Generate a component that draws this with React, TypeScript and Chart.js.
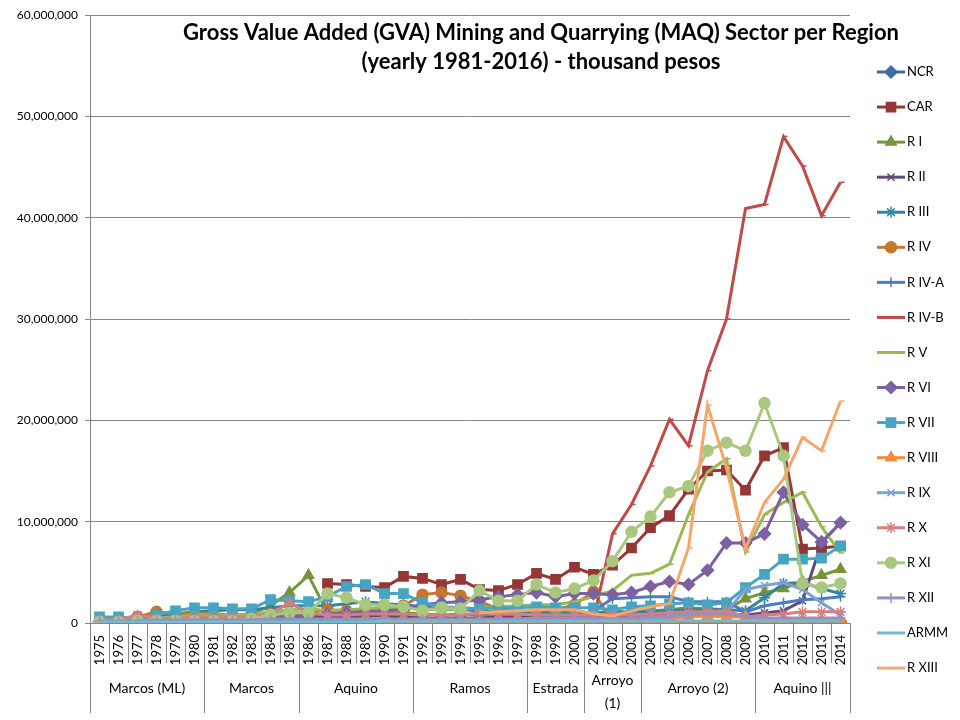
import { useEffect, useRef } from "react";
import { Chart, registerables } from "chart.js";
import { drawPoint } from "chart.js/helpers";

Chart.register(...registerables);

const FONT = "Lato, 'Noto Sans', sans-serif";
const TITLE_LINES = [
  "Gross Value Added (GVA) Mining and Quarrying (MAQ) Sector per Region",
  "(yearly 1981-2016) - thousand pesos",
];

const YEARS = [
  "1975", "1976", "1977", "1978", "1979", "1980", "1981", "1982", "1983", "1984",
  "1985", "1986", "1987", "1988", "1989", "1990", "1991", "1992", "1993", "1994",
  "1995", "1996", "1997", "1998", "1999", "2000", "2001", "2002", "2003", "2004",
  "2005", "2006", "2007", "2008", "2009", "2010", "2011", "2012", "2013", "2014",
];

// administrations under the year row, with how many years each spans
const GROUPS = ["Marcos (ML)", "Marcos", "Aquino", "Ramos", "Estrada", "Arroyo (1)", "Arroyo (2)", "Aquino |||"];
const GROUP_SIZES = [6, 5, 6, 6, 3, 3, 6, 5];

// values in millions of (thousand) pesos
const NCR = [0.1, 0.1, 0.1, 0.1, 0.1, 0.1, 0.1, 0.1, 0.1, 0.1, 0.1, 0.1, 0.1, 0.1, 0.1, 0.1, 0.1, 0.1, 0.1, 0.1, 0.1, 0.1, 0.1, 0.1, 0.1, 0.1, 0.1, 0.1, 0.1, 0.1, 0.1, 0.1, 0.1, 0.1, 0.1, 0.1, 0.1, 0.1, 0.1, 0.1];
const CAR = [null, null, null, null, null, null, null, null, null, null, null, null, 3.9, 3.8, 3.6, 3.5, 4.6, 4.4, 3.8, 4.3, 3.3, 3.2, 3.8, 4.9, 4.3, 5.5, 4.8, 5.7, 7.4, 9.4, 10.6, 13.2, 15.0, 15.1, 13.1, 16.5, 17.3, 7.3, 7.4, 7.6];
const R_I = [0.1, 0.1, 0.3, 0.5, 0.7, 0.9, 0.9, 0.8, 0.9, 1.7, 3.0, 4.7, 1.0, 0.8, 0.9, 1.0, 1.0, 0.9, 0.8, 0.9, 0.8, 0.8, 0.9, 1.0, 1.0, 1.1, 1.0, 0.9, 1.1, 1.2, 1.3, 1.5, 1.4, 1.3, 2.4, 3.0, 3.4, 4.1, 4.7, 5.3];
const R_II = [0.2, 0.2, 0.5, 0.3, 0.3, 0.4, 0.4, 0.4, 0.4, 0.5, 0.6, 0.5, 0.6, 0.6, 0.7, 0.7, 0.6, 0.5, 0.5, 0.5, 0.5, 0.6, 0.6, 0.6, 0.6, 0.6, 0.6, 0.6, 0.6, 0.7, 0.8, 0.9, 0.9, 0.9, 0.8, 1.0, 1.2, 2.2, 7.9, 9.9];
const R_III = [0.5, 0.4, 0.5, 0.6, 0.9, 1.1, 1.2, 1.3, 1.3, 1.5, 1.7, 1.7, 1.7, 1.9, 2.1, 1.9, 1.8, 1.6, 1.4, 1.3, 1.2, 1.1, 1.1, 1.1, 1.0, 1.0, 1.0, 1.1, 1.1, 1.1, 1.2, 1.3, 1.3, 1.3, 1.2, 2.5, 3.9, 4.0, 3.4, 2.9];
const R_IV = [0.1, 0.2, 0.6, 1.1, 0.9, 1.0, 0.8, 0.7, 0.8, 0.9, 1.0, 1.0, 1.3, 1.2, 1.4, 1.5, 1.7, 2.8, 3.0, 2.7, 2.1, 1.4, 1.2, 1.3, 1.3, 1.8, 3.1, 0, 0, 0, 0, 0, 0, 0, 0, 0, 0, 0, 0, 0];
const R_IV_A = [0, 0, 0, 0, 0, 0, 0, 0, 0, 0, 0, 0, 0, 0, 0, 0, 0, 0, 0, 0, 0, 0, 0, 0, 0, 0, 1.2, 2.4, 2.5, 2.6, 2.6, 2.1, 2.1, 2.1, 1.1, 1.7, 2.0, 2.3, 2.4, 2.6];
const R_IV_B = [0, 0, 0, 0, 0, 0, 0, 0, 0, 0, 0, 0, 0, 0, 0, 0, 0, 0, 0, 0, 0, 0, 0, 0, 0, 0, 0.3, 8.8, 11.7, 15.5, 20.1, 17.5, 24.9, 30.0, 40.9, 41.3, 48.0, 45.1, 40.2, 43.5];
const R_V = [0.3, 0.3, 0.4, 0.5, 0.6, 0.8, 0.8, 0.8, 0.9, 1.1, 1.3, 1.4, 1.2, 1.3, 1.4, 1.5, 1.5, 1.4, 1.3, 1.3, 1.5, 1.6, 1.7, 1.8, 1.8, 2.1, 2.6, 3.2, 4.7, 4.9, 5.8, 10.7, 14.9, 16.2, 7.0, 10.7, 11.9, 12.9, 9.5, 6.9];
const R_VI = [0.1, 0.1, 0.2, 0.3, 0.3, 0.4, 0.4, 0.4, 0.5, 0.6, 0.7, 0.8, 0.9, 1.0, 1.1, 1.2, 1.3, 1.8, 2.0, 2.1, 2.3, 2.6, 2.8, 3.0, 2.6, 2.9, 2.9, 2.8, 3.0, 3.6, 4.1, 3.8, 5.2, 7.9, 7.9, 8.8, 12.9, 9.7, 8.0, 9.9];
const R_VII = [0.6, 0.6, 0.4, 0.8, 1.2, 1.5, 1.5, 1.4, 1.4, 2.3, 2.2, 2.1, 2.6, 3.6, 3.8, 2.9, 2.9, 2.0, 1.6, 1.5, 1.4, 1.5, 1.5, 1.6, 1.5, 1.5, 1.5, 1.3, 1.6, 1.7, 1.9, 2.0, 1.8, 2.0, 3.5, 4.8, 6.3, 6.3, 6.4, 7.6];
const R_VIII = [0.1, 0.1, 0.1, 0.1, 0.1, 0.1, 0.1, 0.1, 0.1, 0.1, 0.1, 0.1, 0.1, 0.1, 0.1, 0.1, 0.1, 0.1, 0.1, 0.1, 0.1, 0.1, 0.1, 0.1, 0.1, 0.1, 0.2, 0.2, 0.2, 0.3, 0.4, 0.6, 0.7, 0.6, 0.6, 0.3, 0.3, 0.3, 0.3, 0.3];
const R_IX = [0.1, 0.1, 0.2, 0.2, 0.2, 0.2, 0.2, 0.2, 0.2, 0.2, 0.3, 0.3, 0.3, 0.3, 0.3, 0.3, 0.3, 0.3, 0.3, 0.3, 0.3, 0.3, 0.3, 0.3, 0.3, 0.3, 0.4, 0.4, 0.4, 0.5, 0.6, 0.8, 1.0, 1.1, 3.3, 3.7, 4.0, 3.3, 2.0, 0.8];
const R_X = [0.3, 0.3, 0.8, 0.5, 0.4, 0.6, 0.6, 0.6, 0.6, 0.9, 2.0, 1.0, 0.8, 0.8, 0.9, 0.9, 0.9, 0.8, 0.8, 0.8, 1.0, 0.9, 0.9, 0.8, 0.8, 0.8, 0.8, 0.8, 0.8, 0.9, 1.0, 1.1, 1.1, 1.2, 0.6, 0.8, 0.9, 1.1, 1.1, 1.1];
const R_XI = [0.1, 0.1, 0.2, 0.2, 0.2, 0.2, 0.2, 0.2, 0.4, 0.8, 1.0, 1.0, 2.9, 2.5, 1.8, 1.8, 1.6, 1.2, 1.5, 1.4, 3.2, 2.2, 2.2, 3.8, 3.0, 3.4, 4.2, 6.1, 9.0, 10.5, 12.9, 13.5, 17.0, 17.8, 17.0, 21.7, 16.5, 3.9, 3.5, 3.9];
const R_XII = [0.2, 0.2, 0.2, 0.3, 0.3, 0.3, 0.3, 0.3, 0.3, 0.4, 0.4, 0.4, 0.4, 0.4, 0.4, 0.4, 0.4, 0.4, 0.4, 0.4, 0.4, 0.4, 0.4, 0.5, 0.5, 0.5, 0.5, 0.5, 0.5, 0.6, 0.7, 0.9, 0.9, 0.9, 0.6, 0.5, 0.5, 0.5, 0.5, 0.5];
const ARMM = [0.1, 0.1, 0.1, 0.1, 0.1, 0.1, 0.1, 0.1, 0.1, 0.1, 0.1, 0.1, 0.1, 0.1, 0.1, 0.2, 0.2, 0.2, 0.2, 0.2, 0.2, 0.2, 0.2, 0.2, 0.2, 0.2, 0.2, 0.2, 0.2, 0.2, 0.2, 0.2, 0.2, 0.2, 0.2, 0.2, 0.2, 0.2, 0.2, 0.2];
const R_XIII = [null, null, null, null, null, null, null, null, null, null, null, null, null, null, null, null, null, null, null, null, 1.0, 1.1, 1.2, 1.3, 1.3, 1.3, 0.9, 0.7, 1.2, 1.6, 1.9, 7.4, 21.5, 15.3, 7.3, 11.9, 14.2, 18.3, 17.0, 21.9];

const NAMES = ["NCR", "CAR", "R I", "R II", "R III", "R IV", "R IV-A", "R IV-B", "R V", "R VI", "R VII", "R VIII", "R IX", "R X", "R XI", "R XII", "ARMM", "R XIII"];
const SERIES = [NCR, CAR, R_I, R_II, R_III, R_IV, R_IV_A, R_IV_B, R_V, R_VI, R_VII, R_VIII, R_IX, R_X, R_XI, R_XII, ARMM, R_XIII];

const COLORS = [
  "#3E6DA3", "#953735", "#77933C", "#5F4A7B", "#31859C", "#C5762F",
  "#4A7EBB", "#BE4B48", "#98B954", "#7D60A0", "#46A5C2", "#F38B3E",
  "#7FA0D0", "#D3807E", "#AAC77F", "#9E8CBC", "#71BBD2", "#F8A56C",
];
const MARKERS = [
  "rectRot", "rect", "triangle", "crossRot", "star", "circle",
  "cross", "dash", "dash", "rectRot", "rect", "triangle",
  "crossRot", "star", "circle", "cross", false, "dash",
];
const RADIUS: Record<string, number> = {
  rectRot: 6, rect: 6.5, triangle: 6, crossRot: 5, star: 5.5, circle: 5.5, cross: 5, dash: 4,
};

const GRID = "#868686";

const overlayPlugin = {
  id: "overlay",
  afterDraw(chart: Chart) {
    const { ctx, chartArea } = chart;
    const xs = chart.scales.x;
    ctx.save();

    // title sits inside the plot area
    ctx.fillStyle = "#000";
    ctx.font = `bold 22px ${FONT}`;
    ctx.textAlign = "center";
    ctx.textBaseline = "middle";
    TITLE_LINES.forEach((t, i) => ctx.fillText(t, 541, 33 + i * 29));

    // two-level category axis: year cells and administration cells
    const step = xs.getPixelForValue(1) - xs.getPixelForValue(0);
    const left = xs.getPixelForValue(0) - step / 2;
    const y0 = chartArea.bottom;
    ctx.strokeStyle = GRID;
    ctx.lineWidth = 1;
    ctx.beginPath();
    for (let i = 0; i <= YEARS.length; i++) {
      const x = Math.round(left + i * step) + 0.5;
      ctx.moveTo(x, y0);
      ctx.lineTo(x, y0 + 40);
    }
    let start = 0;
    const bounds = [0];
    GROUP_SIZES.forEach((n) => {
      start += n;
      bounds.push(start);
    });
    bounds.forEach((b) => {
      const x = Math.round(left + b * step) + 0.5;
      ctx.moveTo(x, y0 + 40);
      ctx.lineTo(x, y0 + 90);
    });
    ctx.stroke();

    ctx.font = `14px ${FONT}`;
    ctx.fillStyle = "#000";
    GROUPS.forEach((g, i) => {
      const cx = left + ((bounds[i] + bounds[i + 1]) / 2) * step;
      const w = (bounds[i + 1] - bounds[i]) * step;
      if (ctx.measureText(g).width > w - 6 && g.includes(" ")) {
        const k = g.lastIndexOf(" ");
        ctx.fillText(g.slice(0, k), cx, y0 + 57);
        ctx.fillText(g.slice(k + 1), cx, y0 + 80);
      } else {
        ctx.fillText(g, cx, y0 + 65);
      }
    });

    // legend: line sample with the marker in its middle
    ctx.textAlign = "left";
    ctx.font = `13px ${FONT}`;
    NAMES.forEach((name, i) => {
      const y = 72 + i * 35.06;
      ctx.strokeStyle = COLORS[i];
      ctx.lineWidth = 3;
      ctx.beginPath();
      ctx.moveTo(877, y);
      ctx.lineTo(905, y);
      ctx.stroke();
      const m = MARKERS[i];
      if (m) {
        ctx.fillStyle = COLORS[i];
        ctx.strokeStyle = COLORS[i];
        ctx.lineWidth = 1.5;
        drawPoint(ctx, { pointStyle: m, radius: RADIUS[m as string], rotation: 0, borderWidth: 1.5 }, 891, y);
      }
      ctx.fillStyle = "#000";
      ctx.fillText(name, 907, y);
    });
    ctx.restore();
  },
};

export default function App() {
  const canvasRef = useRef<HTMLCanvasElement>(null);
  useEffect(() => {
    const canvas = canvasRef.current;
    if (!canvas) return;
    const datasets = SERIES.map((data, i) => {
      const m = MARKERS[i];
      return {
        label: NAMES[i],
        data,
        borderColor: COLORS[i],
        backgroundColor: COLORS[i],
        pointBackgroundColor: COLORS[i],
        pointBorderColor: COLORS[i],
        borderWidth: 3,
        pointStyle: m || "circle",
        pointRadius: m ? RADIUS[m as string] : 0,
        pointBorderWidth: 1.5,
        tension: 0,
        // Excel paints later series on top
        order: NAMES.length - i,
      };
    });
    const chart = new Chart(canvas, {
      type: "line",
      data: { labels: YEARS, datasets },
      options: {
        animation: false,
        responsive: true,
        maintainAspectRatio: false,
        layout: { padding: { left: 0, right: 110, top: 15, bottom: 0 } },
        plugins: { legend: { display: false }, tooltip: { enabled: false }, title: { display: false } },
        scales: {
          x: {
            offset: true,
            grid: { display: false },
            border: { display: true, color: GRID },
            ticks: {
              autoSkip: false,
              minRotation: 90,
              maxRotation: 90,
              padding: 4,
              color: "#000",
              font: { family: FONT, size: 13 },
            },
            afterFit: (s: any) => {
              s.height = 97;
            },
          },
          y: {
            min: 0,
            max: 60,
            ticks: {
              stepSize: 10,
              padding: 7,
              color: "#000",
              font: { family: FONT, size: 12 },
              callback: (v: any) => (Number(v) * 1000000).toLocaleString("en-US"),
            },
            grid: { color: GRID, tickLength: 5 },
            border: { color: GRID },
            afterFit: (s: any) => {
              s.width = 90;
            },
          },
        },
      },
      plugins: [overlayPlugin],
    });
    return () => chart.destroy();
  }, []);
  return (
    <div style={{ position: "fixed", left: 0, top: 0, width: 960, height: 720, background: "#fff" }}>
      <canvas ref={canvasRef} />
    </div>
  );
}
